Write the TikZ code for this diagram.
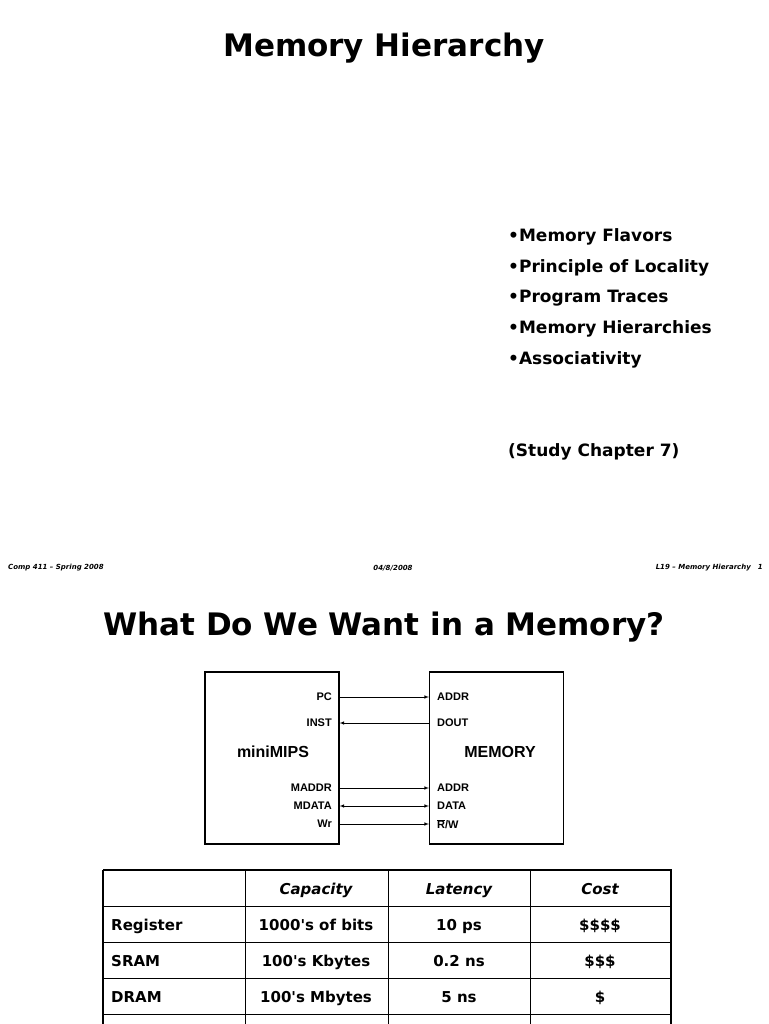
\documentclass[tikz,border=0pt]{standalone}
\usepackage{fontspec}
\setmainfont{Liberation Sans}
\newfontfamily\slidefont{DejaVu Sans}
\tikzset{
  title/.style={font=\slidefont\bfseries\fontsize{31}{34}\selectfont},
  bullet/.style={anchor=west, font=\slidefont\bfseries\fontsize{17}{20}\selectfont, inner sep=0pt},
  foot/.style={font=\slidefont\bfseries\itshape\fontsize{7}{8}\selectfont, inner sep=0pt},
  port/.style={font=\bfseries\fontsize{11}{13}\selectfont, inner sep=0pt},
  cell/.style={font=\slidefont\bfseries\fontsize{15}{17}\selectfont, inner sep=0pt, anchor=base},
  hcell/.style={font=\slidefont\bfseries\itshape\fontsize{15}{17}\selectfont, inner sep=0pt, anchor=base},
  chip/.style={draw, line width=1.2pt, minimum width=134pt, minimum height=172pt, inner sep=0pt},
  sig/.style={-latex, semithick}
}
\begin{document}
\begin{tikzpicture}[x=1pt, y=-1pt]
  \useasboundingbox (0,0) rectangle (768,1024);
  \clip (0,0) rectangle (768,1024);
  % Slide 1
  \node[title] (t1) at (384,48) {Memory Hierarchy};
  \node[bullet] (b1) at (508,237) {•Memory Flavors};
  \node[bullet] (b2) at (508,268) {•Principle of Locality};
  \node[bullet] (b3) at (508,298) {•Program Traces};
  \node[bullet] (b4) at (508,329) {•Memory Hierarchies};
  \node[bullet] (b5) at (508,360) {•Associativity};
  \node[bullet] (study) at (508,452) {(Study Chapter 7)};
  % Footer
  \node[foot, anchor=west] (f1) at (8,568) {Comp 411 – Spring 2008};
  \node[foot] (f2) at (393,568) {04/8/2008};
  \node[foot, anchor=east] (f3) at (763,568) {L19 – Memory Hierarchy\quad 1};
  % Slide 2
  \node[title] (t2) at (384,627) {What Do We Want in a Memory?};
  \node[chip] (cpubox) at (272,758) {};
  \node[chip] (membox) at (496.5,758) {};
  \node[font=\bfseries\fontsize{16}{18}\selectfont] (cpu) at (273,752) {miniMIPS};
  \node[font=\bfseries\fontsize{16}{18}\selectfont] (mem) at (500,752) {MEMORY};
  % Ports
  \foreach \nm/\txt/\yy in {pc/PC/697, inst/INST/723, maddr/MADDR/788, mdata/MDATA/806, wr/Wr/824}
    \node[port, anchor=east] (\nm) at (332,\yy) {\txt};
  \foreach \nm/\txt/\yy in {addr/ADDR/697, dout/DOUT/723, maddrm/ADDR/788, data/DATA/806}
    \node[port, anchor=west] (\nm) at (437,\yy) {\txt};
  \node[port, anchor=west] (rw) at (437,824) {$\overline{\mbox{R}}$/W};
  % Signals
  \draw[sig] (pc -| cpubox.east) -- (pc -| membox.west);
  \draw[sig] (inst -| membox.west) -- (inst -| cpubox.east);
  \draw[sig] (maddr -| cpubox.east) -- (maddr -| membox.west);
  \draw[sig, latex-latex] (mdata -| cpubox.east) -- (mdata -| membox.west);
  \draw[sig] (wr -| cpubox.east) -- (wr -| membox.west);
  % Table
  \draw[line width=1.5pt] (103,870) -- (671,870) -- (671,1030) (103,870) -- (103,1030);
  \foreach \yy in {906,942,978,1014} \draw[semithick] (103,\yy) -- (671,\yy);
  \foreach \xx in {245,388,530} \draw[semithick] (\xx,870) -- (\xx,1030);
  \node[hcell] (hcap) at (316,894) {Capacity};
  \node[hcell] (hlat) at (459,894) {Latency};
  \node[hcell] (hcost) at (600,894) {Cost};
  \foreach \r/\yy/\a/\b/\c/\d in {0/930/Register/1000's of bits/10 ps/\$\$\$\$, 1/966/SRAM/100's Kbytes/0.2 ns/\$\$\$, 2/1002/DRAM/100's Mbytes/5 ns/\$, 3/1038/Hard disk/100's Gbytes/10 ms/¢} {
    \node[cell, anchor=base west] (row\r a) at (111,\yy) {\a};
    \node[cell] (row\r b) at (316,\yy) {\b};
    \node[cell] (row\r c) at (459,\yy) {\c};
    \node[cell] (row\r d) at (600,\yy) {\d};
  }
\end{tikzpicture}
\end{document}
